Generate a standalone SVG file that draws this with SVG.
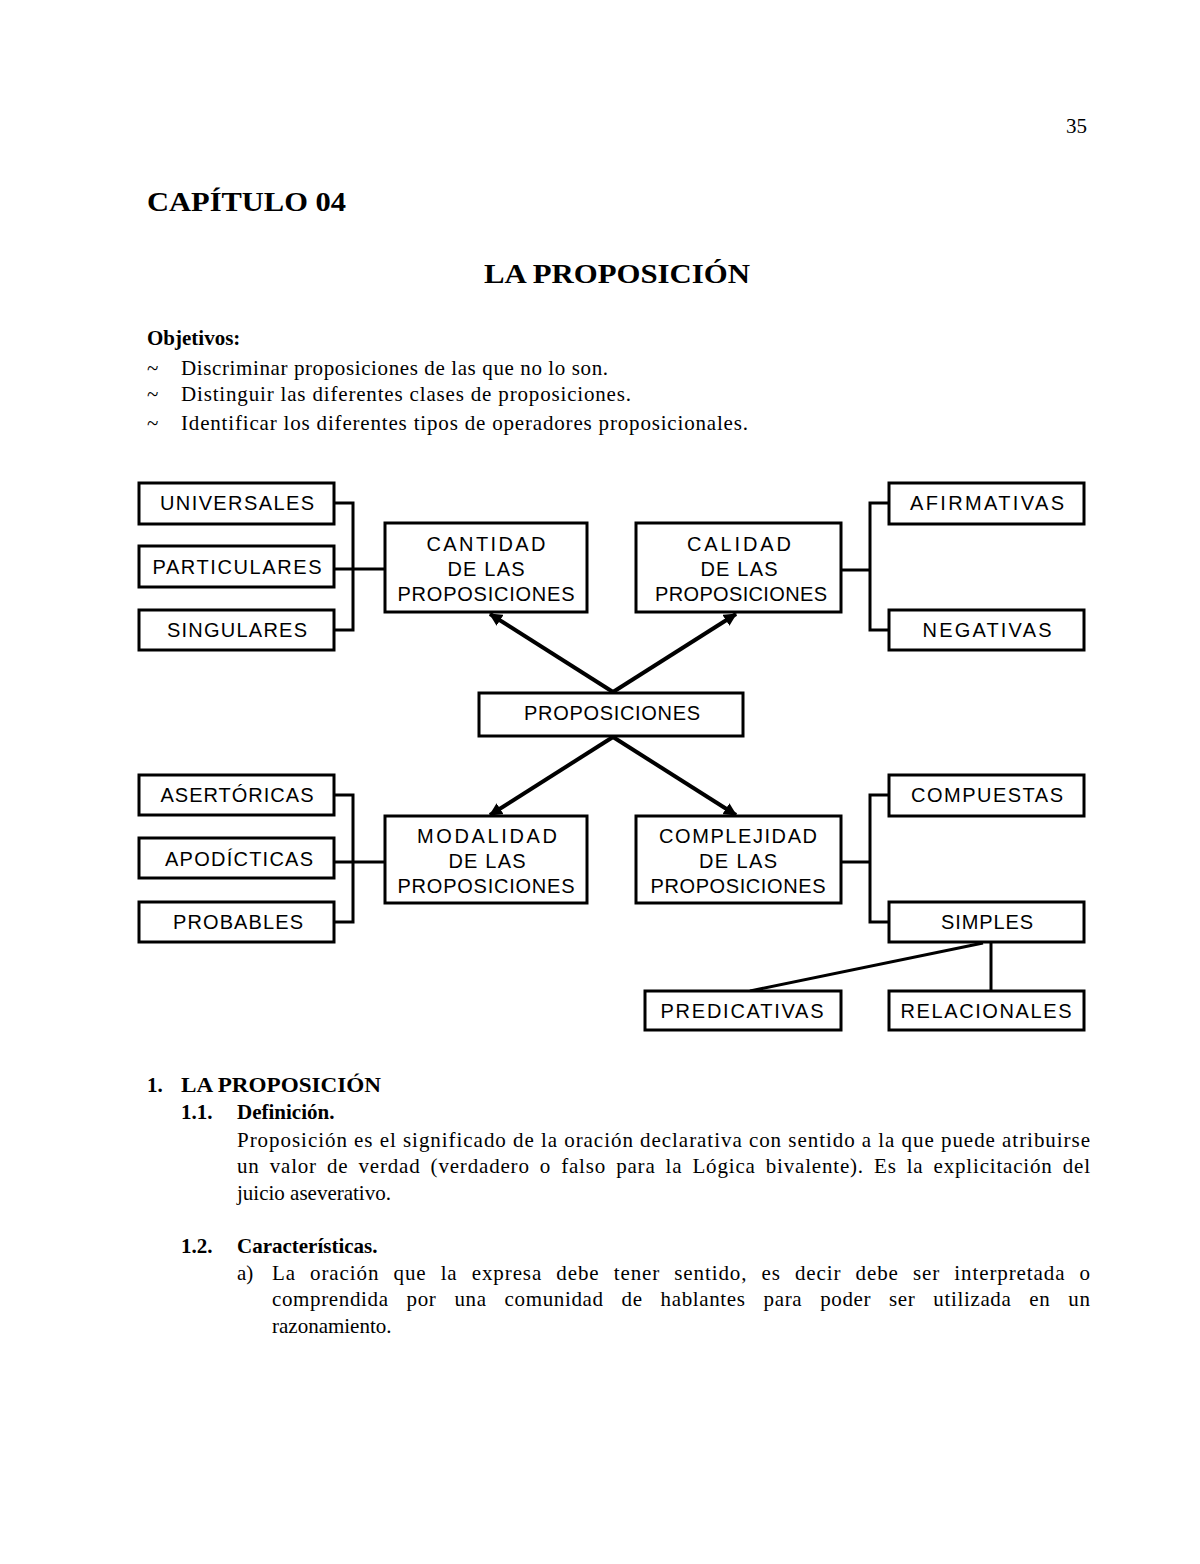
<svg xmlns="http://www.w3.org/2000/svg" width="1200" height="1564" viewBox="0 0 1200 1564">
<style>
.bg{fill:#fff}
.box{fill:#fff;stroke:#000;stroke-width:3}
.lbl{font-family:"Liberation Sans",Arial,sans-serif;font-size:20px;fill:#000;text-anchor:middle}
.conn{stroke:#000;stroke-width:3;fill:none}
.arr{stroke:#000;stroke-width:4;fill:none}
.serif{font-family:"Liberation Serif","Times New Roman",serif;fill:#000}
.h1{font-size:28px;font-weight:bold}
.b{font-weight:bold}
.t{font-size:21px}
</style>
<defs>
<marker id="ah" viewBox="0 0 12 12" refX="11" refY="6" markerWidth="13" markerHeight="13" markerUnits="userSpaceOnUse" orient="auto">
<path d="M0,0 L12,6 L0,12 z" fill="#000"/>
</marker>
</defs>
<rect class="bg" x="0" y="0" width="1200" height="1564"/>

<g id="header">
<text class="serif t" x="1066" y="133">35</text>
<text class="serif h1" x="147" y="211" textLength="199" lengthAdjust="spacingAndGlyphs">CAPÍTULO 04</text>
<text class="serif h1" x="484" y="283" textLength="266" lengthAdjust="spacingAndGlyphs">LA PROPOSICIÓN</text>
<text class="serif t b" x="147" y="345">Objetivos:</text>
<text class="serif t" x="147" y="375">~</text>
<text class="serif t" x="181" y="375" textLength="427" lengthAdjust="spacing">Discriminar proposiciones de las que no lo son.</text>
<text class="serif t" x="147" y="401">~</text>
<text class="serif t" x="181" y="401" textLength="450" lengthAdjust="spacing">Distinguir las diferentes clases de proposiciones.</text>
<text class="serif t" x="147" y="430">~</text>
<text class="serif t" x="181" y="430" textLength="567" lengthAdjust="spacing">Identificar los diferentes tipos de operadores proposicionales.</text>
</g>

<g id="connectors">
<path class="conn" d="M334,503 H353 V630 H334"/>
<path class="conn" d="M334,569 H385"/>
<path class="conn" d="M889,503 H870 V630 H889"/>
<path class="conn" d="M841,570 H870"/>
<path class="conn" d="M334,795 H353 V922 H334"/>
<path class="conn" d="M334,862 H385"/>
<path class="conn" d="M889,795 H870 V922 H889"/>
<path class="conn" d="M841,862 H870"/>
<path class="conn" d="M983,943 L750,991"/>
<path class="conn" d="M991,943 V991"/>
<line class="arr" x1="613" y1="692" x2="490" y2="614" marker-end="url(#ah)"/>
<line class="arr" x1="613" y1="692" x2="736" y2="614" marker-end="url(#ah)"/>
<line class="arr" x1="613" y1="737" x2="490" y2="815" marker-end="url(#ah)"/>
<line class="arr" x1="613" y1="737" x2="736" y2="815" marker-end="url(#ah)"/>
</g>

<g id="universales"><rect class="box" x="139" y="483" width="195" height="41"/><text class="lbl" x="237" y="510" textLength="154" lengthAdjust="spacing">UNIVERSALES</text></g>
<g id="particulares"><rect class="box" x="139" y="546" width="195" height="41"/><text class="lbl" x="237" y="574" textLength="169" lengthAdjust="spacing">PARTICULARES</text></g>
<g id="singulares"><rect class="box" x="139" y="610" width="195" height="40"/><text class="lbl" x="237" y="637" textLength="140" lengthAdjust="spacing">SINGULARES</text></g>

<g id="cantidad"><rect class="box" x="385" y="523" width="202" height="89"/>
<text class="lbl" x="486" y="551" textLength="119" lengthAdjust="spacing">CANTIDAD</text>
<text class="lbl" x="486" y="576" textLength="77" lengthAdjust="spacing">DE LAS</text>
<text class="lbl" x="486" y="601" textLength="177" lengthAdjust="spacing">PROPOSICIONES</text></g>

<g id="calidad"><rect class="box" x="636" y="523" width="205" height="89"/>
<text class="lbl" x="739" y="551" textLength="104" lengthAdjust="spacing">CALIDAD</text>
<text class="lbl" x="739" y="576" textLength="77" lengthAdjust="spacing">DE LAS</text>
<text class="lbl" x="741" y="601" textLength="172" lengthAdjust="spacing">PROPOSICIONES</text></g>

<g id="afirmativas"><rect class="box" x="889" y="483" width="195" height="41"/><text class="lbl" x="987" y="510" textLength="154" lengthAdjust="spacing">AFIRMATIVAS</text></g>
<g id="negativas"><rect class="box" x="889" y="610" width="195" height="40"/><text class="lbl" x="987" y="637" textLength="129" lengthAdjust="spacing">NEGATIVAS</text></g>

<g id="proposiciones"><rect class="box" x="479" y="693" width="264" height="43"/><text class="lbl" x="612" y="720" textLength="176" lengthAdjust="spacing">PROPOSICIONES</text></g>

<g id="asertoricas"><rect class="box" x="139" y="775" width="195" height="40"/><text class="lbl" x="237" y="802" textLength="153" lengthAdjust="spacing">ASERTÓRICAS</text></g>
<g id="apodicticas"><rect class="box" x="139" y="838" width="195" height="40"/><text class="lbl" x="239" y="866" textLength="148" lengthAdjust="spacing">APODÍCTICAS</text></g>
<g id="probables"><rect class="box" x="139" y="902" width="195" height="40"/><text class="lbl" x="238" y="929" textLength="130" lengthAdjust="spacing">PROBABLES</text></g>

<g id="modalidad"><rect class="box" x="385" y="816" width="202" height="87"/>
<text class="lbl" x="487" y="843" textLength="140" lengthAdjust="spacing">MODALIDAD</text>
<text class="lbl" x="487" y="868" textLength="77" lengthAdjust="spacing">DE LAS</text>
<text class="lbl" x="486" y="893" textLength="177" lengthAdjust="spacing">PROPOSICIONES</text></g>

<g id="complejidad"><rect class="box" x="636" y="816" width="205" height="87"/>
<text class="lbl" x="738" y="843" textLength="158" lengthAdjust="spacing">COMPLEJIDAD</text>
<text class="lbl" x="738" y="868" textLength="78" lengthAdjust="spacing">DE LAS</text>
<text class="lbl" x="738" y="893" textLength="175" lengthAdjust="spacing">PROPOSICIONES</text></g>

<g id="compuestas"><rect class="box" x="889" y="775" width="195" height="41"/><text class="lbl" x="987" y="802" textLength="152" lengthAdjust="spacing">COMPUESTAS</text></g>
<g id="simples"><rect class="box" x="889" y="902" width="195" height="40"/><text class="lbl" x="987" y="929" textLength="92" lengthAdjust="spacing">SIMPLES</text></g>
<g id="predicativas"><rect class="box" x="645" y="991" width="196" height="39"/><text class="lbl" x="742" y="1018" textLength="163" lengthAdjust="spacing">PREDICATIVAS</text></g>
<g id="relacionales"><rect class="box" x="889" y="991" width="195" height="39"/><text class="lbl" x="986" y="1018" textLength="171" lengthAdjust="spacing">RELACIONALES</text></g>

<g id="body">
<text class="serif t b" x="147" y="1092">1.</text>
<text class="serif t b" x="181" y="1092" textLength="200" lengthAdjust="spacingAndGlyphs">LA PROPOSICIÓN</text>
<text class="serif t b" x="181" y="1119">1.1.</text>
<text class="serif t b" x="237" y="1119">Definición.</text>
<text class="serif t" x="237" y="1147" textLength="853" lengthAdjust="spacing">Proposición es el significado de la oración declarativa con sentido a la que puede atribuirse</text>
<text class="serif t" x="237" y="1173" textLength="853" lengthAdjust="spacing" word-spacing="4">un valor de verdad (verdadero o falso para la Lógica bivalente). Es la explicitación del</text>
<text class="serif t" x="237" y="1200">juicio aseverativo.</text>
<text class="serif t b" x="181" y="1253">1.2.</text>
<text class="serif t b" x="237" y="1253">Características.</text>
<text class="serif t" x="237" y="1280">a)</text>
<text class="serif t" x="272" y="1280" textLength="818" lengthAdjust="spacing" word-spacing="8">La oración que la expresa debe tener sentido, es decir debe ser interpretada o</text>
<text class="serif t" x="272" y="1306" textLength="818" lengthAdjust="spacing" word-spacing="12">comprendida por una comunidad de hablantes para poder ser utilizada en un</text>
<text class="serif t" x="272" y="1333">razonamiento.</text>
</g>
</svg>
